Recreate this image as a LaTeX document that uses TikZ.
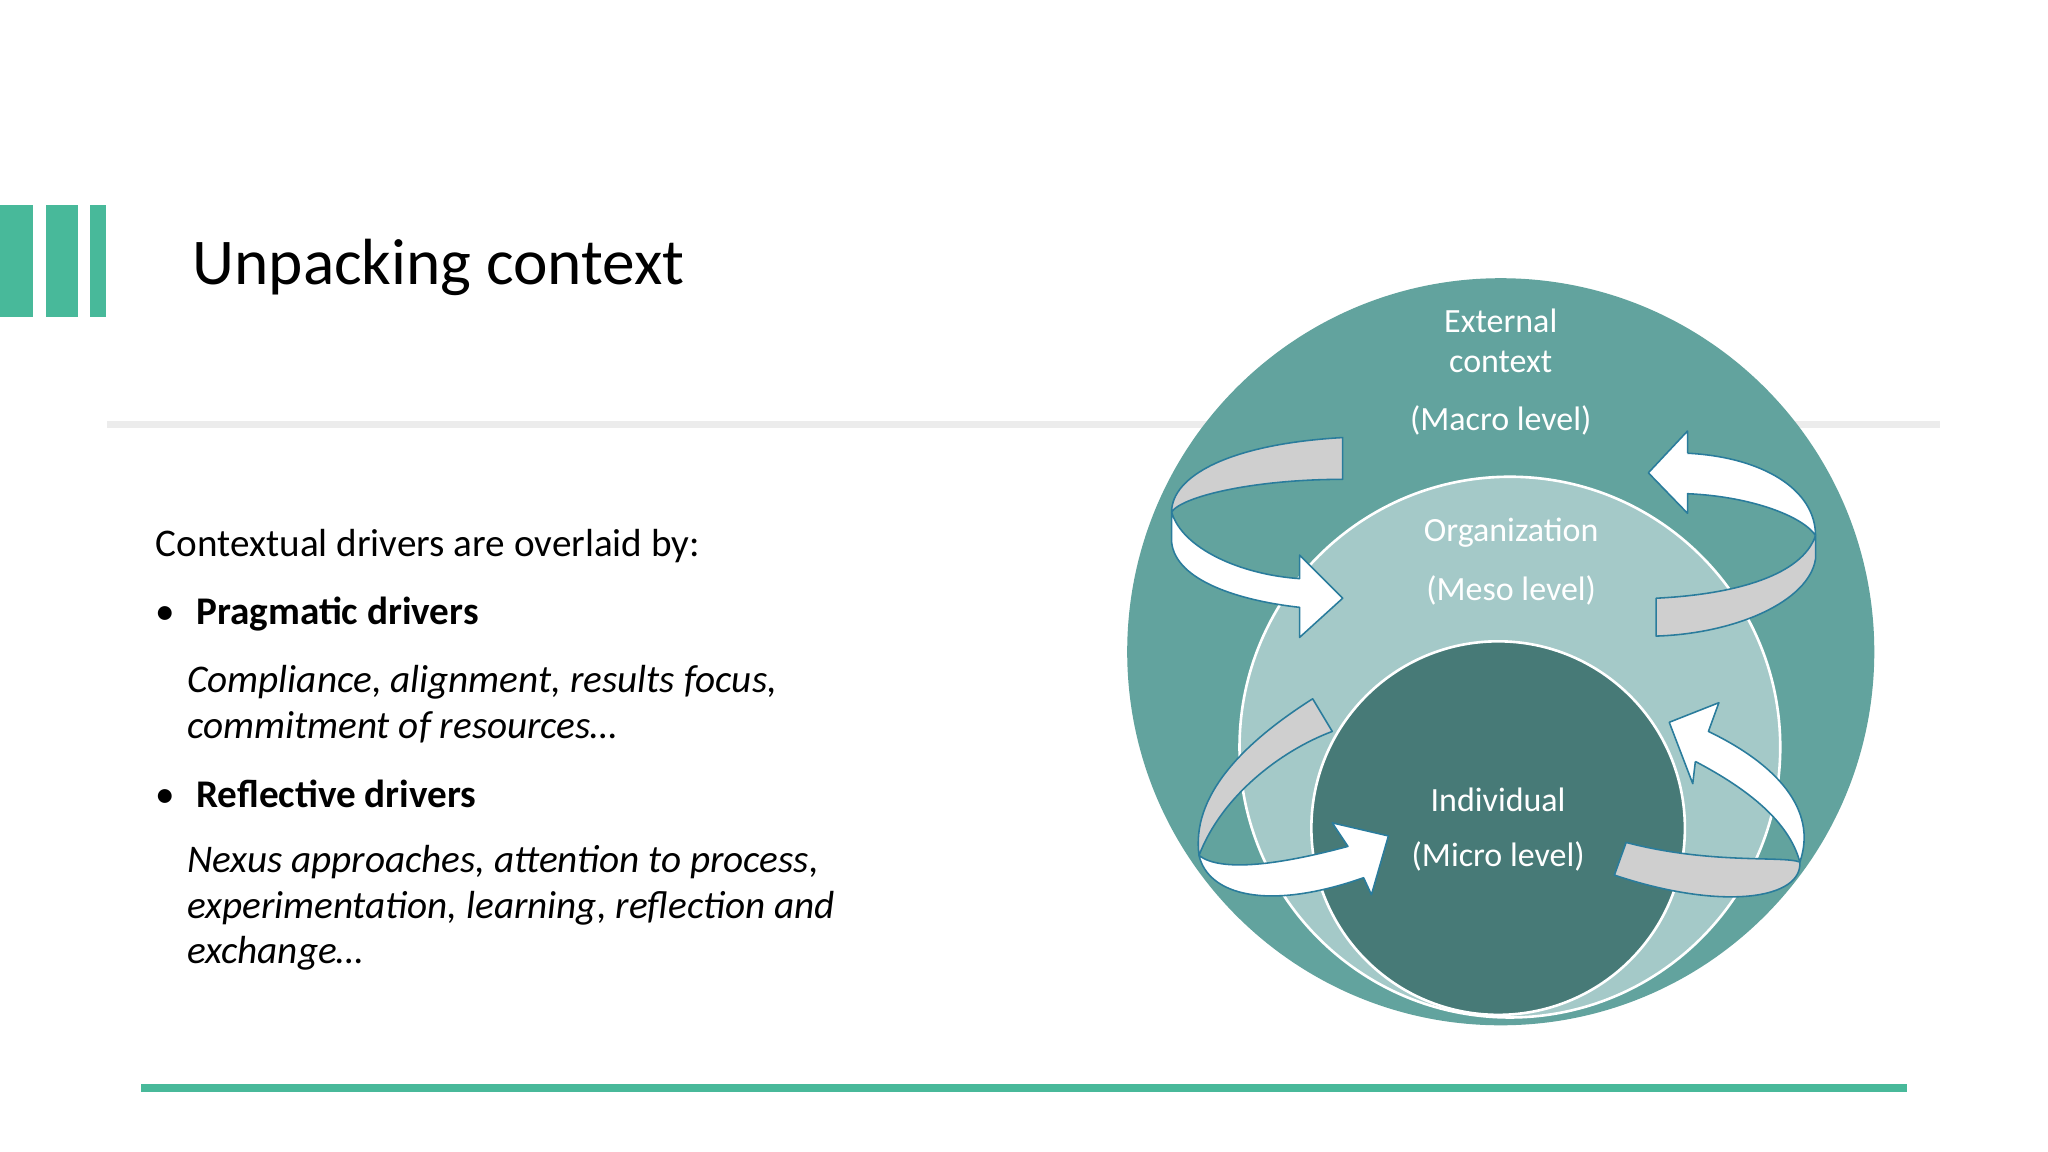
\documentclass[tikz,border=0pt]{standalone}
\usepackage{fontspec}
\setmainfont{Carlito}
\usetikzlibrary{shadows}
\definecolor{bargreen}{HTML}{48B99A}
\definecolor{outerc}{HTML}{62A39E}
\definecolor{mesoc}{HTML}{A4C9C8}
\definecolor{microc}{HTML}{477A77}
\definecolor{arrline}{HTML}{2A7C9C}
\definecolor{band}{HTML}{CFCFCF}
\tikzset{
  every node/.style={inner sep=0pt},
  ring label/.style={text=white, font=\fontsize{13}{15}\selectfont, align=center},
  body/.style={anchor=west, font=\fontsize{15}{17}\selectfont},
  arrow part/.style={draw=arrline, line width=0.6pt, line join=round},
}
\begin{document}
\begin{tikzpicture}[x=0.5pt, y=-0.5pt]
  \useasboundingbox[fill=white] (0,0) rectangle (1568,882);
  % title card
  \fill[white, drop shadow={shadow xshift=0pt, shadow yshift=-3pt, opacity=0.15}] (82,90) rectangle (1485,322);
  \foreach \xa/\xb in {0/25, 35/60, 69/81}
    \fill[bargreen] (\xa,157) rectangle (\xb,243);
  \node[anchor=base west, font=\fontsize{25}{28}\selectfont] (title) at (147,218) {Unpacking context};
  % rings
  \node[circle, fill=outerc, minimum size=286pt] (macro) at (1149,499) {};
  \node[circle, fill=mesoc, draw=white, line width=1pt, minimum size=207pt] (meso) at (1156,572) {};
  \node[circle, fill=microc, draw=white, line width=1pt, minimum size=143pt] (micro) at (1147,634) {};
  \node[ring label] (macrot) at (1149,261) {External\\context};
  \node[ring label] (macrol) at (1149,322) {(Macro level)};
  \node[ring label] (mesot) at (1157,408) {Organization};
  \node[ring label] (mesol) at (1157,452) {(Meso level)};
  \node[ring label] (microt) at (1147,612) {Individual};
  \node[ring label] (microl) at (1147,656) {(Micro level)};
  % cycle arrows
  \filldraw[arrow part, fill=band] (1028,335) .. controls (940,340) and (897,365) .. (897,392) .. controls (905,380) and (960,367) .. (1028,367) -- cycle;
  \filldraw[arrow part, fill=white] (897,392) -- (897,415) .. controls (900,445) and (950,460) .. (995,465) -- (995,488) -- (1028,458) -- (995,425) -- (995,443) .. controls (950,440) and (905,420) .. (897,392);
  \filldraw[arrow part, fill=white] (1292,347) -- (1292,330) -- (1262,362) -- (1292,393) -- (1292,378) .. controls (1340,380) and (1380,395) .. (1390,410) .. controls (1390,375) and (1350,350) .. (1292,347);
  \filldraw[arrow part, fill=band] (1390,410) -- (1390,428) .. controls (1385,460) and (1330,485) .. (1268,487) -- (1268,458) .. controls (1330,455) and (1380,440) .. (1390,410);
  \filldraw[arrow part, fill=band] (1005,535) .. controls (950,570) and (912,610) .. (918,655) .. controls (935,610) and (980,575) .. (1020,560) -- cycle;
  \filldraw[arrow part, fill=white] (918,655) .. controls (925,685) and (970,698) .. (1044,672) -- (1050,685) -- (1063,640) -- (1020,630) -- (1032,648) .. controls (980,662) and (935,668) .. (918,655);
  \filldraw[arrow part, fill=white] (1298,583) -- (1296,600) -- (1278,553) -- (1316,538) -- (1308,560) .. controls (1360,585) and (1392,620) .. (1378,660) .. controls (1370,630) and (1340,605) .. (1298,583);
  \filldraw[arrow part, fill=band] (1378,660) .. controls (1380,688) and (1320,698) .. (1236,670) -- (1245,645) .. controls (1310,662) and (1365,655) .. (1378,660);
  % body text
  \node[body] (intro) at (119,418) {Contextual drivers are overlaid by:};
  \node[body] (b1) at (119,470) {•\hspace{8pt}\textbf{Pragmatic drivers}};
  \node[body, align=left, font=\fontsize{15}{17.5}\selectfont\itshape] (d1) at (143,539) {Compliance, alignment, results focus,\\commitment of resources…};
  \node[body] (b2) at (119,608) {•\hspace{8pt}\textbf{Reflective drivers}};
  \node[body, align=left, font=\fontsize{15}{17.5}\selectfont\itshape] (d2) at (143,695) {Nexus approaches, attention to process,\\experimentation, learning, reflection and\\exchange…};
  % bottom rule
  \fill[bargreen] (108,830) rectangle (1460,836);
\end{tikzpicture}
\end{document}
